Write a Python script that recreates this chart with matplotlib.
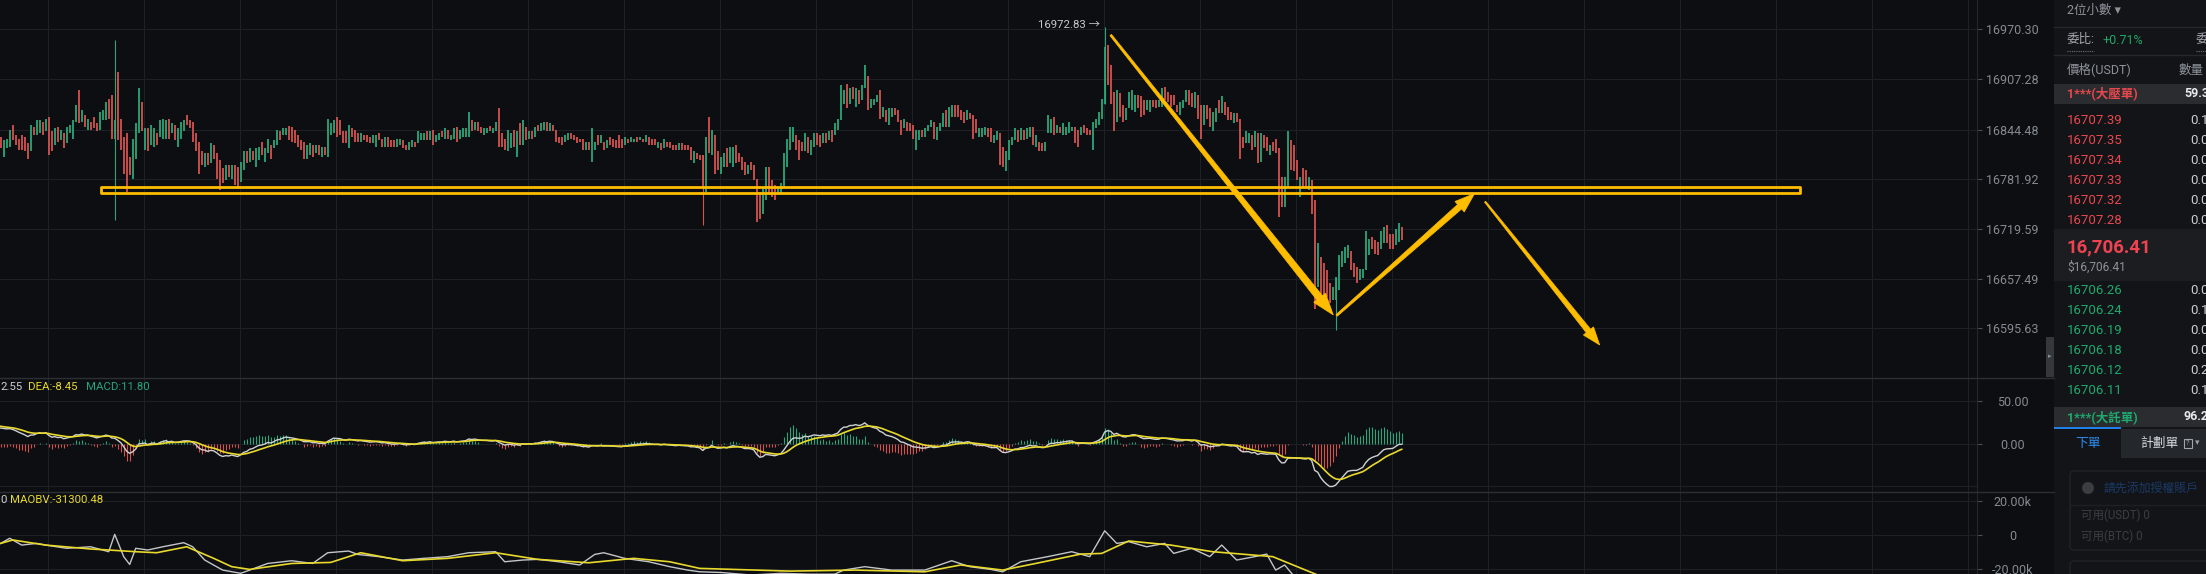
import numpy as np
import matplotlib
matplotlib.use('Agg')
import matplotlib.pyplot as plt
from matplotlib.patches import Rectangle, Polygon, FancyBboxPatch, Circle
from matplotlib.transforms import IdentityTransform

plt.rcParams['font.family'] = ['Roboto', 'Noto Sans CJK TC', 'DejaVu Sans']

# ---------------- data ----------------
opens = [
16835,16810,16821,16823,16850,16837,16833,16837,16835,16827,16817,16848,16837,16840,16854,16842,16860,16842,16825,16848,
16831,16840,16827,16840,16833,16854,16894,16854,16863,16844,16854,16860,16852,16844,16856,16856,16883,16888,16833,16917,
16858,16835,16840,16810,16783,16808,16840,16879,16819,16846,16825,16823,16840,16835,16833,16833,16858,16840,16850,16823,
16833,16842,16863,16856,16854,16840,16829,16817,16798,16815,16802,16825,16815,16806,16796,16781,16800,16783,16800,16798,
16779,16794,16817,16804,16817,16798,16806,16829,16804,16815,16825,16821,16825,16842,16837,16837,16849,16848,16844,16837,
16831,16829,16808,16812,16825,16815,16825,16810,16823,16810,16837,16840,16860,16856,16842,16842,16821,16846,16844,16840,
16829,16837,16837,16835,16827,16823,16840,16833,16823,16835,16831,16831,16823,16825,16831,16825,16819,16823,16829,16827,
16831,16831,16842,16831,16844,16829,16831,16842,16833,16844,16831,16833,16848,16833,16835,16835,16835,16856,16844,16854,
16848,16837,16840,16849,16840,16842,16871,16840,16833,16817,16821,16844,16810,16852,16825,16848,16833,16842,16835,16850,
16842,16844,16854,16842,16850,16844,16835,16835,16829,16831,16840,16837,16835,16833,16833,16819,16829,16804,16819,16837,
16827,16829,16821,16835,16833,16831,16837,16833,16825,16833,16829,16829,16835,16831,16833,16829,16835,16833,16833,16821,
16827,16821,16829,16829,16825,16825,16819,16827,16825,16825,16823,16802,16815,16812,16812,16766,16860,16812,16837,16817,
16789,16798,16821,16802,16798,16825,16815,16810,16804,16789,16804,16800,16783,16766,16739,16756,16798,16781,16775,16764,
16764,16773,16798,16819,16829,16837,16831,16829,16817,16835,16812,16823,16840,16837,16827,16840,16831,16844,16837,16844,
16856,16877,16902,16877,16898,16873,16894,16881,16896,16911,16871,16875,16879,16894,16860,16869,16850,16860,16871,16869,
16856,16846,16854,16852,16850,16819,16831,16844,16835,16842,16848,16854,16831,16842,16848,16869,16848,16860,16875,16875,
16869,16867,16856,16865,16863,16858,16835,16835,16837,16846,16846,16827,16831,16840,16823,16792,16806,16825,16831,16844,
16831,16844,16833,16835,16848,16823,16829,16827,16817,16840,16840,16860,16840,16848,16837,16837,16840,16842,16848,16844,
16837,16850,16846,16844,16819,16846,16850,16858,16877,16950,16925,16892,16854,16890,16875,16856,16871,16869,16867,16888,
16886,16881,16869,16867,16881,16881,16873,16873,16898,16892,16888,16888,16875,16863,16871,16879,16894,16890,16871,16888,
16875,16850,16875,16871,16842,16854,16881,16865,16879,16873,16867,16852,16865,16858,16835,16827,16827,16837,16823,16840,
16804,16837,16835,16812,16829,16833,16821,16785,16748,16773,16831,16825,16806,16760,16796,16794,16769,16781,16756,16647,
16685,16677,16668,16652,16631,16631,16643,16672,16677,16683,16693,16677,16672,16656,16658,16668,16687,16710,16706,16704,
16695,16702,16725,16714,16714,16700,16704,16723]

closes = [
16821,16831,16833,16844,16831,16825,16819,16819,16817,16808,16850,16837,16856,16856,16837,16858,16812,16817,16846,16829,
16844,16821,16848,16850,16856,16875,16852,16869,16848,16858,16844,16846,16842,16867,16869,16879,16858,16833,16856,16831,
16819,16789,16766,16787,16833,16852,16896,16842,16846,16817,16850,16846,16825,16856,16858,16856,16833,16852,16831,16846,
16854,16856,16850,16846,16829,16817,16789,16800,16815,16800,16827,16808,16783,16769,16777,16800,16785,16800,16775,16773,
16804,16817,16802,16821,16806,16821,16823,16812,16821,16833,16808,16831,16844,16831,16846,16846,16831,16829,16827,16823,
16819,16808,16825,16827,16810,16825,16812,16823,16812,16858,16852,16856,16835,16837,16827,16827,16850,16835,16829,16829,
16840,16831,16829,16827,16837,16837,16831,16823,16835,16823,16823,16823,16833,16833,16821,16819,16829,16831,16823,16842,
16840,16840,16831,16842,16825,16837,16840,16835,16846,16833,16837,16846,16829,16844,16846,16846,16867,16842,16854,16842,
16840,16846,16846,16842,16846,16854,16823,16823,16819,16844,16840,16823,16842,16825,16856,16831,16842,16833,16848,16842,
16852,16854,16842,16852,16842,16829,16827,16825,16837,16840,16833,16831,16827,16829,16819,16829,16819,16846,16829,16825,
16837,16819,16831,16825,16823,16821,16821,16821,16835,16827,16835,16833,16829,16835,16829,16837,16825,16825,16825,16829,
16819,16833,16823,16821,16819,16819,16827,16819,16819,16819,16806,16817,16808,16806,16773,16835,16815,16844,16789,16794,
16810,16815,16798,16823,16823,16802,16804,16794,16787,16800,16794,16781,16729,16733,16773,16798,16764,16760,16756,16773,
16777,16815,16833,16848,16848,16819,16806,16817,16840,16815,16831,16840,16825,16823,16840,16827,16842,16829,16852,16858,
16900,16894,16871,16896,16883,16896,16877,16900,16925,16869,16883,16883,16888,16858,16873,16854,16871,16871,16863,16854,
16837,16858,16842,16842,16833,16844,16844,16835,16846,16850,16856,16833,16848,16852,16865,16848,16873,16875,16860,16860,
16856,16852,16869,16858,16833,16840,16846,16846,16848,16835,16829,16837,16842,16800,16798,16817,16831,16835,16846,16829,
16846,16831,16846,16848,16825,16837,16817,16817,16829,16863,16858,16837,16850,16840,16852,16848,16854,16848,16827,16823,
16848,16840,16837,16837,16854,16858,16867,16883,16948,16900,16877,16842,16894,16860,16854,16871,16892,16894,16888,16871,
16860,16863,16881,16881,16873,16871,16881,16896,16881,16879,16873,16875,16867,16879,16881,16894,16875,16873,16892,16858,
16833,16875,16858,16848,16867,16871,16865,16886,16863,16856,16856,16865,16854,16808,16821,16842,16840,16819,16842,16802,
16840,16821,16817,16825,16817,16815,16735,16748,16785,16842,16794,16792,16781,16785,16773,16773,16785,16739,16620,16702,
16639,16639,16635,16627,16647,16660,16687,16693,16698,16700,16668,16660,16652,16670,16670,16718,16708,16695,16689,16687,
16718,16723,16702,16695,16695,16720,16727,16706]

# long shadows of a few candles
wick_idx = [38, 234, 368, 445]
wick_hi = [16957, 16812, 16972.83, 16660]
wick_lo = [16731, 16725, 16877, 16593]

price_ticks = [16595.63, 16657.49, 16719.59, 16781.92, 16844.48, 16907.28, 16970.30]
macd_ticks = [50, 0]
obv_ticks = [20, 0, -20]          # thousands

# MACD state at the left edge of the window
dif_start, dea_start = 18.0, 20.0

obv_idx = [0, 3, 7, 12, 15, 22, 30, 36, 38, 41, 43, 45, 49, 54, 61, 64, 68, 74, 80, 83,
           89, 97, 104, 109, 116, 119, 126, 134, 141, 149, 156, 165, 168, 174, 179, 186, 193, 198, 201, 208,
           216, 223, 229, 233, 240, 250, 260, 270, 278, 281, 288, 297, 308, 317, 323, 330, 334, 340, 349, 357,
           363, 368, 372, 376, 382, 388, 391, 397, 403, 407, 412, 418, 422, 425, 428, 431, 436, 442, 450, 460, 467]
obv_val = [-4.9, -1.9, -5.9, -4.9, -5.9, -7.8, -6.9, -9.8, 0.4, -12.7, -17.3, -7.8, -8.8, -6.9, -4.5, -6.9, -14.7, -20.6, -22.5, -20.6,
           -16.7, -15.1, -16.7, -10.4, -9.4, -11.4, -12.7, -14.7, -13.7, -12.7, -10.4, -9.8, -15.7, -14.7, -14.3, -15.7, -17.6, -11.4, -10.4, -13.7,
           -15.7, -18.6, -20.6, -21.6, -22.0, -23.5, -22.5, -23.0, -23.0, -20.6, -18.6, -20.6, -20.6, -15.1, -18.6, -20.2, -21.6, -15.7, -12.7, -9.8,
           -12.7, 2.5, -4.9, -3.9, -6.9, -4.9, -10.8, -7.8, -12.7, -5.9, -14.7, -12.7, -11.2, -20.6, -17.6, -24.0, -30.0, -38.0, -36.0, -33.0, -31.0]
maobv_idx = [0, 4, 15, 30, 36, 45, 52, 60, 62, 71, 77, 83, 97, 110, 120, 134, 149, 165, 179, 196,
             211, 223, 233, 263, 285, 308, 320, 334, 345, 360, 367, 376, 390, 404, 424, 439, 450, 467]
maobv_val = [-4.9, -2.9, -5.9, -8.2, -8.8, -9.8, -10.4, -7.6, -6.9, -13.7, -18.6, -20.2, -16.7, -16.1, -10.4, -15.1, -13.7, -10.4, -14.3, -16.3,
             -13.7, -15.7, -19.6, -21.2, -20.6, -21.6, -17.6, -20.6, -16.7, -11.2, -10.8, -3.5, -5.9, -9.8, -12.7, -23.5, -28.0, -31.3]

# hand-drawn annotations (candle index, price)
band_prices = (16765.0, 16772.5)
band_span = (33.4, 599.8)
arrow_lines = [((370.0, 16962.8), (444.2, 16612.3)),
               ((445.3, 16611.7), (491.3, 16764.4)),
               ((494.8, 16754.1), (533.0, 16574.7))]
peak_idx, peak_price = 368, 16972.83

ask_prices = ['16707.39', '16707.35', '16707.34', '16707.33', '16707.32', '16707.28']
ask_qty = ['0.1', '0.0', '0.0', '0.0', '0.0', '0.0']
bid_prices = ['16706.26', '16706.24', '16706.19', '16706.18', '16706.12', '16706.11']
bid_qty = ['0.0', '0.1', '0.0', '0.0', '0.2', '0.1']
last_price = '16,706.41'

# ---------------- style ----------------
W, H = 2206, 574
BG = '#0c0e11'
GRID = '#1d2025'
UP = '#2aa679'
DN = '#d5524e'
AMBER = '#ffbd00'
YEL = '#e8d92c'
WHITE_L = '#cfd0d2'
LBL = '#858a92'

fig = plt.figure(figsize=(W / 100, H / 100), dpi=100, facecolor=BG)


def add_ax(x0, y0, x1, y1):
    a = fig.add_axes([x0 / W, 1 - y1 / H, (x1 - x0) / W, (y1 - y0) / H])
    a.set_facecolor(BG)
    for s in a.spines.values():
        s.set_visible(False)
    a.spines['right'].set_visible(True)
    a.spines['right'].set_color('#23262b')
    a.set_xticks([])
    return a


n = min(len(opens), len(closes))
o = np.array(opens[:n], dtype=float)
c = np.array(closes[:n], dtype=float)
x = np.arange(n)
xlim = (-0.7 / 3, (1977 - 0.7) / 3)
vgrid = [(48 + 96 * k - 0.7) / 3 for k in range(21)]

ax = add_ax(0, 0, 1977, 378)
axm = add_ax(0, 378, 1977, 492)
axo = add_ax(0, 492, 1977, 574)

for a in (ax, axm, axo):
    a.set_xlim(*xlim)
    for g in vgrid:
        a.axvline(g, color=GRID, lw=0.8, zorder=0)
    a.yaxis.tick_right()

# main price panel
ax.set_ylim(16533.4, 17006.6)
for t in price_ticks:
    ax.axhline(t, color=GRID, lw=0.8, zorder=0)
ax.set_yticks(price_ticks)
ax.set_yticklabels([f'{v:.2f}' for v in price_ticks])

up = c >= o
cols = np.where(up, UP, DN)
ax.vlines(x, np.minimum(o, c), np.maximum(o, c), colors=cols, lw=1.3, zorder=2)
ax.vlines(wick_idx, wick_lo, wick_hi, colors=[cols[i] for i in wick_idx], lw=0.8, zorder=2)

# MACD panel
a12, a26, a9 = 2 / 13, 2 / 27, 2 / 10
e12 = np.empty(n); e26 = np.empty(n); dea = np.empty(n)
e12[0] = c[0]; e26[0] = c[0] - dif_start; dea[0] = dea_start
for i in range(1, n):
    e12[i] = e12[i - 1] + a12 * (c[i] - e12[i - 1])
    e26[i] = e26[i - 1] + a26 * (c[i] - e26[i - 1])
    dea[i] = dea[i - 1] + a9 * ((e12[i] - e26[i]) - dea[i - 1])
dif = e12 - e26
hist = 2 * (dif - dea)

axm.set_ylim(-56.4, 76.2)
for t in [50, 0, -50]:
    axm.axhline(t, color=GRID, lw=0.8, zorder=0)
axm.set_yticks(macd_ticks)
axm.set_yticklabels(['50.00', '0.00'])
axm.vlines(x, 0, hist, colors=np.where(hist >= 0, UP, DN), lw=0.8, zorder=2)
axm.plot(x, dif, color=WHITE_L, lw=1.0, zorder=3)
axm.plot(x, dea, color=YEL, lw=1.2, zorder=3)

# OBV panel
axo.set_ylim(-22.9, 25.3)
for t in obv_ticks:
    axo.axhline(t, color=GRID, lw=0.8, zorder=0)
axo.set_yticks(obv_ticks)
axo.set_yticklabels(['20.00k', '0', '-20.00k'])
axo.plot(obv_idx, obv_val, color='#c4c5c8', lw=1.0, zorder=3)
axo.plot(maobv_idx, maobv_val, color=YEL, lw=1.2, zorder=3)

for a in (ax, axm, axo):
    a.tick_params(axis='y', length=3.6, width=0.8, color='#4a4e55', pad=22,
                  labelsize=9.0, labelcolor=LBL)
    for tl in a.get_yticklabels():
        tl.set_horizontalalignment('center')

# annotations
ax.add_patch(Rectangle((band_span[0], band_prices[0]), band_span[1] - band_span[0],
                       band_prices[1] - band_prices[0], fill=False, ec=AMBER, lw=2.0,
                       joinstyle='round', zorder=5))


def tapered_arrow(p0, p1, w0, w1, head_w, head_len):
    P0 = ax.transData.transform(p0)
    P1 = ax.transData.transform(p1)
    d = P1 - P0
    L = np.hypot(*d)
    u = d / L
    nrm = np.array([-u[1], u[0]])
    B = P1 - u * head_len
    pts = [P0 + nrm * w0 / 2, B + nrm * w1 / 2, B + nrm * head_w / 2, P1,
           B - nrm * head_w / 2, B - nrm * w1 / 2, P0 - nrm * w0 / 2]
    poly = Polygon(pts, closed=True, transform=IdentityTransform(), fc=AMBER, ec=AMBER,
                   lw=0.5, zorder=6, clip_on=False)
    ax.add_patch(poly)


tapered_arrow(*arrow_lines[0], 2.0, 7.0, 15, 22)
tapered_arrow(*arrow_lines[1], 2.0, 6.0, 14, 20)
tapered_arrow(*arrow_lines[2], 1.5, 5.5, 13, 18)

ax.annotate('16972.83 →', xy=(peak_idx, peak_price), xytext=(-3.5, 1.5),
            textcoords='offset points', ha='right', va='center', fontsize=8.2,
            color='#c6c9cd', zorder=7)

# indicator legends
axm.text(0.0, 1 - (387 - 378) / 114, '2.55', transform=axm.transAxes, ha='left', va='center',
         fontsize=8.2, color=WHITE_L)
axm.text(28 / 1977, 1 - (387 - 378) / 114, 'DEA:-8.45', transform=axm.transAxes, ha='left',
         va='center', fontsize=8.2, color=YEL)
axm.text(86 / 1977, 1 - (387 - 378) / 114, 'MACD:11.80', transform=axm.transAxes, ha='left',
         va='center', fontsize=8.2, color='#25a57a')
axo.text(0.0, 1 - (500 - 492) / 82, '0', transform=axo.transAxes, ha='left', va='center',
         fontsize=8.2, color=WHITE_L)
axo.text(10 / 1977, 1 - (500 - 492) / 82, 'MAOBV:-31300.48', transform=axo.transAxes, ha='left',
         va='center', fontsize=8.2, color=YEL)

# ---------------- overlay UI (pixel space) ----------------
ui = fig.add_axes([0, 0, 1, 1])
ui.set_xlim(0, W)
ui.set_ylim(H, 0)
ui.axis('off')
ui.patch.set_alpha(0)

ui.plot([0, 2054], [378, 378], color='#2c2f34', lw=1.0)
ui.plot([0, 2054], [492, 492], color='#2c2f34', lw=1.0)

# right order-book panel
ui.add_patch(Rectangle((2054, 0), 152, H, fc='#121418', ec='none'))
ui.add_patch(Rectangle((2046, 337), 8, 40, fc='#34373c', ec='none'))
ui.text(2050, 357, '▸', color='#8a8f96', fontsize=5, ha='center', va='center')

ui.text(2067, 10, '2位小數 ▾', color='#8d929a', fontsize=9.0, ha='left', va='center')
ui.plot([2054, 2206], [27, 27], color='#25282d', lw=1)
ui.text(2067, 40, '委比:', color='#a6abb2', fontsize=9.0, ha='left', va='center')
ui.plot([2067, 2094], [51, 51], color='#6d7279', lw=0.8, ls=(0, (1, 1)))
ui.text(2102, 40, '+0.71%', color='#22a565', fontsize=9.0, ha='left', va='center')
ui.text(2196, 40, '委', color='#a6abb2', fontsize=9.0, ha='left', va='center')
ui.plot([2196, 2206], [51, 51], color='#6d7279', lw=0.8, ls=(0, (1, 1)))
ui.plot([2054, 2206], [55, 55], color='#25282d', lw=1)
ui.text(2067, 70, '價格(USDT)', color='#8d929a', fontsize=9.0, ha='left', va='center')
ui.text(2179, 70, '數量', color='#8d929a', fontsize=9.0, ha='left', va='center')

ui.add_patch(Rectangle((2054, 84), 152, 20, fc='#2a2c30', ec='none'))
ui.text(2067, 93.5, '1***(大壓單)', color='#e5484d', fontsize=9.0, fontweight='bold',
        ha='left', va='center')
ui.text(2184, 93.5, '59.3', color='#e8e9eb', fontsize=9.0, fontweight='bold', ha='left', va='center')

for k, (p, q) in enumerate(zip(ask_prices, ask_qty)):
    yy = 120 + 20 * k
    ui.text(2067, yy, p, color='#e5484d', fontsize=9.5, ha='left', va='center')
    ui.text(2190, yy, q, color='#c9ccd1', fontsize=9.5, ha='left', va='center')

ui.add_patch(Rectangle((2054, 229), 152, 52, fc='#1b1d21', ec='none'))
ui.text(2067, 247, last_price, color='#ef4352', fontsize=13.5, fontweight='bold',
        ha='left', va='center')
ui.text(2067, 267, '$' + last_price, color='#8d929a', fontsize=8.6, ha='left', va='center')

for k, (p, q) in enumerate(zip(bid_prices, bid_qty)):
    yy = 290.7 + 20 * k
    ui.text(2067, yy, p, color='#1ea96d', fontsize=9.5, ha='left', va='center')
    ui.text(2190, yy, q, color='#c9ccd1', fontsize=9.5, ha='left', va='center')

ui.add_patch(Rectangle((2054, 407), 152, 20, fc='#2a2c30', ec='none'))
ui.text(2067, 417, '1***(大託單)', color='#1ea96d', fontsize=9.0, fontweight='bold',
        ha='left', va='center')
ui.text(2184, 417, '96.2', color='#e8e9eb', fontsize=9.0, fontweight='bold', ha='left', va='center')

ui.add_patch(Rectangle((2054, 426.5), 67, 2.5, fc='#1e80e8', ec='none'))
ui.add_patch(Rectangle((2121, 429), 85, 29, fc='#24272c', ec='none'))
ui.text(2075, 443, '下單', color='#2d8cf0', fontsize=9.2, ha='left', va='center')
ui.text(2140, 443, '計劃單', color='#d6d9dd', fontsize=9.2, ha='left', va='center')
# boxed question-mark symbol (no installed font has U+2370), drawn as a shape
ui.add_patch(Rectangle((2183.5, 438.5), 8.5, 9, fill=False, ec='#a0a4ab', lw=0.8))
ui.text(2187.75, 443.2, '?', color='#a0a4ab', fontsize=5.5, ha='center', va='center')
ui.text(2195, 443, '▾', color='#9a9ea5', fontsize=6.5, ha='left', va='center')

ui.add_patch(FancyBboxPatch((2070, 471), 150, 79, boxstyle='round,pad=0,rounding_size=4',
                            fc='none', ec='#202328', lw=1))
ui.add_patch(Circle((2088, 488), 6, fc='#3a3d42', ec='none'))
ui.text(2103, 488, '請先添加授權賬戶', color='#1b3a66', fontsize=8.6, ha='left', va='center')
ui.plot([2070, 2206], [505, 505], color='#1c1f23', lw=1)
ui.text(2081, 515, '可用(USDT) 0', color='#3a3e44', fontsize=8.3, ha='left', va='center')
ui.text(2081, 536, '可用(BTC) 0', color='#3a3e44', fontsize=8.3, ha='left', va='center')
ui.add_patch(FancyBboxPatch((2070, 561), 150, 40, boxstyle='round,pad=0,rounding_size=4',
                            fc='none', ec='#202328', lw=1))

fig.savefig('out.png', dpi=100, facecolor=BG)
